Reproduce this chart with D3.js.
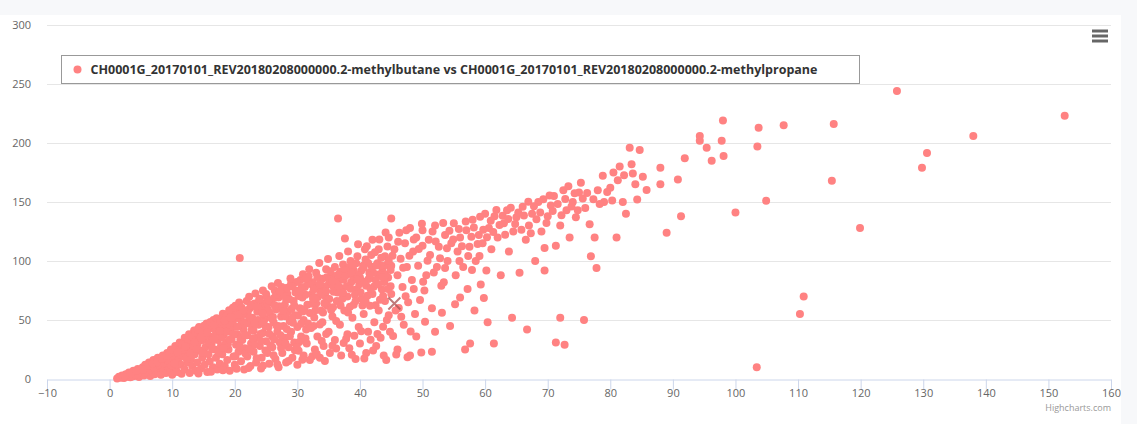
<!DOCTYPE html>
<html>
<head>
<meta charset="utf-8">
<script src="https://cdn.jsdelivr.net/npm/d3@7"></script>
<style>
  body { margin: 0; background: #f7f8fa; }
  #chart { position: absolute; left: 0; top: 15px; width: 1121px; height: 409px; background: #fff; }
  text { font-family: "Open Sans", "DejaVu Sans", sans-serif; }
</style>
</head>
<body>
<div id="chart"></div>
<script>
const seriesName = 'CH0001G_20170101_REV20180208000000.2-methylbutane vs CH0001G_20170101_REV20180208000000.2-methylpropane'
const xTicks = d3.range(-10, 161, 10)
const yTicks = [0, 50, 100, 150, 200, 250, 300]

// [x, y]
const points = [
  [1.2,0.5],[1.5,2],[1.8,1],[2,3],[2.3,0.8],[2.6,4],[2.8,2],[3.1,5.5],[3.3,1.5],[3.5,3.5],[3.8,7],[4,2.5],[4.2,5],[4.5,8.5],[4.7,1.8],[4.9,4],[5.1,6.5],[5.3,10],[5.5,3],[5.7,12],[5.9,8],[6.1,5],[6.3,14],[6.5,2.5],[6.6,10.5],[6.8,7],[7,16],[7.2,4],[7.3,12.5],[7.5,9],[7.7,18],[7.8,6],[8,14.5],[8.2,3.5],[8.3,11],[8.5,20],[8.6,8],[8.8,16.5],[9,5],[9,13],[9.2,22],[9.4,10],[9.5,18.5],[9.7,7],[9.8,25],[10,15],[10,3.5],
  [10.3,20],[10.5,28],[10.6,10],[10.8,6],[11,24],[11,16],[11.2,31],[11.4,12],[11.5,4.5],[11.7,27],[11.8,19],[12,35],[12,8],[12.2,22],[12.4,14],[12.5,30],[12.7,38],[12.8,5],[13,26],[13,17],[13.2,11],[13.4,33],[13.5,41],[13.6,21],[13.8,7],[14,29],[14,14],[14.2,37],[14.3,44],[14.5,24],[14.6,9],[14.8,18],[15,33],[15,40],[15.2,12],[15.3,27],[15.5,47],[15.6,6],[15.8,21],[16,36],[16,15],[16.2,43],[16.3,30],[16.5,10],[16.6,50],[16.8,25],[17,39],[17,18],[17.2,8],[17.3,33],[17.5,46],[17.6,13],[17.8,28],[18,52],[18,21],[18.2,37],[18.4,11],[18.5,43],[18.6,31],[18.8,16],[19,49],[19,25],[19.2,7],[19.3,40],[19.5,34],[19.6,55],[19.8,19],[20,45],[20,12],[20.2,29],[20.4,38],[20.5,58],[20.6,23],
  [20.8,102.5],[21,50],[21,15],[21.2,33],[21.4,42],[21.5,8],[21.6,26],[21.8,55],[22,19],[22,37],[22.2,47],[22.4,60],[22.5,11],[22.6,30],[22.8,52],[23,23],[23,41],[23.2,64],[23.4,14],[23.5,35],[23.6,57],[23.8,46],[24,28],[24,68],[24.2,9],[24.3,18],[24.5,39],[24.6,61],[24.8,51],[25,32],[25,72],[25.2,22],[25.4,44],[25.5,13],[25.6,56],[25.8,65],[26,36],[26,27],[26.2,48],[26.4,75],[26.5,17],[26.6,59],[26.8,40],[27,69],[27,10],[27.2,31],[27.4,53],[27.5,78],[27.6,22],[27.8,45],[28,63],[28,35],[28.2,14],[28.4,72],[28.5,57],[28.6,27],[28.8,49],[29,81],[29,40],[29.2,18],[29.4,66],[29.5,31],[29.6,54],[29.8,75],[30,44],[30,12],[30.2,24],[30.4,60],[30.5,84],[30.6,36],[30.8,69],[31,50],[31,20],[31.2,78],[31.4,42],[31.5,30],[31.6,63],[31.8,87],[32,56],[32,16],
  [32.3,72],[32.5,82],[32.6,45],[32.8,25],[33,90],[33,64],[33.2,36],[33.4,76],[33.6,18],[33.8,58],[34,85],[34,48],[34.2,28],[34.5,70],[34.6,93],[34.8,62],[35,40],[35,80],[35.2,22],[35.5,88],[35.6,53],[35.8,74],[36,33],[36,95],[36.3,66],[36.5,136],[36.6,84],[36.8,46],[37,20],[37,77],[37.3,97],[37.5,58],[37.6,119],[37.8,88],[38,38],[38,70],[38.3,26],[38.5,100],[38.6,82],[38.8,52],[39,92],[39,63],[39.3,17],[39.5,76],[39.6,104],[39.8,44],[40,86],[40,30],[40.3,68],[40.5,96],[40.6,55],[40.8,110],[41,79],[41,22],[41.3,40],[41.5,90],[41.6,62],[41.8,105],[42,118],[42,72],[42.3,48],[42.5,84],[42.6,28],[42.8,98],[43,58],[43,110],[43.3,35],[43.5,76],[43.6,92],[43.8,20],[44,66],[44,104],[44.3,50],[44.5,86],[44.6,120],[44.8,40],[45,136],[45,96],[45,72],
  [45.5,110],[45.7,58],[46,88],[46,25],[46.3,124],[46.5,102],[46.8,78],[47,46],[47.2,115],[47.5,95],[47.7,65],[48,128],[48,20],[48.3,84],[48.5,108],[48.8,55],[49,120],[49,36],[49.3,96],[49.6,67],[50,113],[50,126],[50.3,75],[50.6,88],[51,118],[51.2,105],[51.5,23],[51.5,60],[52,40],[52,130],[52.3,95],[52.6,112],[53,79],[53.4,82],[53.6,122],[54,100],[54.4,45],[54.6,115],[55,132],[55.3,88],[55.6,108],[56,69],[56,120],[56.5,95],[56.8,25],[57,126],[57.6,30],[57.5,112],[58,135],[58.5,100],[59,122],[59.3,80],[59.6,115],[60,140],[60.4,48],[60.2,92],
  [60.6,128],[61,110],[61.4,30],[61.5,138],[62,120],[62.5,88],[63,132],[63.5,143],[63.8,108],[64.3,52],[64.5,125],[65,137],[65.5,90],[66,146],[66.7,42],[66.5,118],[67,130],[67.5,140],[68,100],[68.5,150],[69,125],[69.5,92],[69.5,111],[70,138],[70.5,147],[71,155],[71.3,31],[71.3,113],[72,52],[72,130],[72.7,29],[72.5,160],[73,143],[73.5,120],[74,150],[74.5,137],[75,158],[75.6,153],[75.8,50],[76,145],[76.9,104],[77.5,120],[77.8,94],[78,160],[79,150],[80,162],[80.5,175],[81.5,180],[81,120],[82,150],[83.1,196],[83.4,182],[84.7,194],[84,165],[82.5,140],
  [88,179],[88,165],[89,124],[90.8,169],[91.3,138],[91.9,187],[94.3,206],[94.3,202],[95.4,196],[96.2,185],[97.8,202],[98,219],[98.1,189],[100,141],[103.4,10],[103.5,197],[103.7,213],[104.9,151],[107.7,215],
  [110.3,55],[110.9,70],[115.4,168],[115.7,216],[119.9,128],[125.8,244],[129.8,179],[130.6,191.5],[138,206],[152.6,223],
  [2.1,1.6],[3.6,2.2],[4.4,3.3],[5.6,5.4],[6.4,7.8],[7.1,9.6],[7.9,12],[8.7,13.4],[9.3,15.8],[9.9,11.7],[10.4,13.2],[11.1,20.4],[11.9,25.3],[12.3,17.4],[12.9,21.8],[13.3,28.6],[13.9,25.5],[14.4,32.4],[14.9,22.1],[15.4,36.7],[15.9,30.2],[16.4,25.7],[16.9,42.1],[17.4,22.6],[17.9,35.2],[18.3,46.4],[18.9,29.4],[19.4,44.3],[19.9,38.1],[20.3,51.7],[20.9,33.6],[21.3,46.2],[21.7,21.6],[22.1,57.3],[22.7,41.8],[23.1,29.4],[23.7,50.1],[24.1,38.2],[24.4,64.3],[24.9,44.7],[25.3,58.9],[25.7,28.4],[26.1,52.6],[26.3,68.7],[26.7,45.2],[27.1,61.6],[27.3,37.1],[27.7,71.2],[28.1,53.2],[28.3,42.3],[28.7,67.9],[29.1,59.6],[29.3,47.7],[29.7,73.3],[30.1,53.8],[30.3,31.4],[30.7,77.8],[31.1,59.1],[31.3,71.4],[31.7,47.1],[32.1,80.6],[32.4,63.7],[32.7,52.1],[33.1,77.2],[33.3,69.4],[33.7,84.1],[34.1,56.3],[34.3,78.4],[34.7,86.2],[35.1,67.8],[35.3,91.4],[35.7,60.7],[36.1,81.3],[36.4,73.4],[36.9,91.2],[37.2,68.1],[37.4,84.2],[37.9,78.6],[38.2,94.6],[38.4,61.2],[38.9,86.7],[39.2,71.3],[39.4,98.1],[39.9,80.4],[40.2,91.7],[40.4,62.3],[40.9,101.2],[41.2,70.6],[41.4,84.8],[41.9,95.1],[42.2,78.2],[42.4,107.4],[42.9,88.6],[43.2,67.2],[43.4,102.8],[43.9,82.1],[44.2,96.7],[44.4,112.3],[44.9,78.6],
  [2.4,2.7],[3.4,4.6],[4.3,6.8],[5.4,8.1],[6.2,11.4],[6.9,13.1],[7.6,14.3],[8.4,17.2],[9.1,19.4],[9.6,21.9],[10.2,24.8],[10.9,22.7],[11.6,29.4],[12.6,33.1],[13.1,36.3],[13.7,39.5],[14.1,42.2],[14.7,40.3],[15.1,45.2],[15.7,43.6],[16.1,48.3],[16.7,46.2],[17.1,51.4],[17.7,49.2],[18.1,55.3],[18.7,53.6],[19.1,58.2],[19.7,60.4],[20.1,62.1],[20.7,64.8],[21.1,60.3],[21.9,66.2],[22.3,69.7],[22.9,63.1],[23.3,72.4],[23.9,67.2],[24.5,75.1],[25.1,69.6],[25.9,78.6],[26.9,81.4],[27.9,76.3],[28.9,85.2],[29.9,82.3],[30.9,88.7],[31.9,93.1],[33.5,98.2],[34.9,101.6],[36.7,104.3],[38.1,108.1],[39.7,114.2],[41.1,112.6],[43.1,118.3],[44.1,124.2],
  [26.2,20.1],[29.6,24.3],[32.4,19.2],[34.4,15.3],[36.2,25.8],[38.7,20.6],[40.7,17.4],[42.1,24.1],[44.2,16.2],[45.8,20.8],[47.6,18.4],[49.8,22.4],[33.9,32.2],[37.4,30.6],[39.1,36.6],[41.7,33.3],[43.7,44.2],[45.3,36.4],[46.6,52.8],[48.1,40.3],[50.4,48.6],[53.1,56.2],[55.2,63.4],[57.2,76.2],[58.3,58.1],[59.8,68.6],
  [45.2,104.4],[46.1,116.3],[46.9,94.2],[47.4,126.1],[47.9,104.5],[48.6,118.3],[49.4,110.2],[49.9,131.6],[50.8,100.2],[51.6,125.1],[52.1,116.6],[52.8,102.4],[53.3,132.1],[53.9,110.7],[54.3,125.6],[54.9,118.2],[55.8,127.2],[56.3,112.4],[56.9,133.4],[57.3,104.2],[57.8,120.6],[58.2,128.3],[58.8,114.4],[59.2,137.6],[59.7,126.4],[60.3,120.1],[60.9,134.2],[61.3,124.6],[61.8,143.2],[62.3,130.6],[62.8,138.4],[63.2,122.3],[63.7,135.6],[64.1,145.1],[64.8,131.3],[65.3,141.2],[65.8,126.4],[66.2,138.6],[66.9,150.2],[67.3,123.6],[67.8,146.3],[68.2,135.4],[68.8,141.1],[69.3,152.4],[69.8,132.1],[70.3,155.6],[70.8,142.3],[71.6,148.4],[72.2,138.7],[72.8,152.6],[73.3,163.4],[73.8,146.2],[74.3,157.4],[74.8,143.1],[75.3,166.4],[76.3,157.6],[76.7,131.2],[77.3,152.4],[78.3,148.3],[78.8,172.2],[79.5,158.4],[80.3,151.2],[81.2,168.4],[82.2,172.6],[83.6,174.2],[84.3,152.1],[85.2,171.3],[85.8,160.2],
  [18.2,26.3],[18.6,40.1],[19.2,33.4],[19.6,47.6],[20.1,19.3],[20.4,44.2],[20.8,27.4],[21.2,54.6],[21.6,37.2],[21.9,48.3],[22.3,25.2],[22.6,62.4],[22.9,34.6],[23.2,47.1],[23.5,17.6],[23.8,59.4],[24.2,32.1],[24.6,48.2],[24.9,24.1],[25.2,63.8],[25.5,38.3],[25.9,51.2],[26.3,33.4],[26.6,71.1],[27.1,44.6],[27.4,26.3],[27.7,57.6],[28.1,30.2],[28.4,77.4],[28.8,36.3],[29.2,51.7],[29.5,62.2],[29.9,27.2],[30.2,70.4],[30.6,46.8],[30.9,57.3],[31.3,34.3],[31.7,81.2],[32.2,43.2],[32.5,68.2],[32.9,58.3],[33.2,86.4],[33.6,46.1],[33.9,72.3],[34.3,64.1],[34.6,38.2],[35.1,84.1],[35.4,58.4],[35.8,78.2],[36.2,49.1],[36.5,88.4],[36.9,62.3],[37.3,73.1],[37.7,92.4],[38.1,56.3],[38.5,76.4],[38.9,96.2],[39.3,66.1],[39.7,88.2],[40.1,73.5],[40.5,82.6],[40.9,65.7],[41.3,98.4],[41.7,76.3],[42.1,90.2],[42.5,62.4],[42.9,80.4],[43.3,96.1],[43.7,70.3],[44.1,88.3],[44.5,76.3],[44.9,92.3],
  [12.1,27.6],[13.6,31.2],[14.6,35.1],[15.6,39.1],[16.6,33.4],[17.6,40.6],[18.4,49.6],[19.4,52.1],[20.6,54.4],[21.4,58.2],[22.4,52.2],[23.4,61.3],[24.4,55.6],[25.4,66.8],[26.4,62.3],[27.2,74.1],[28.2,67.3],[29.2,78.3],[30.4,74.1],[31.4,85.3],[32.6,76.1],[33.6,80.2],[34.6,74.3],[35.6,83.1],[36.6,78.6],[37.6,87.2],[38.6,90.1],[39.6,84.1],[40.6,94.3],[41.6,88.1],[42.6,96.2],[43.6,86.2],[44.6,100.1],
  [14.2,4.6],[16.2,6.1],[18.1,7.4],[20.3,8.6],[22.2,9.3],[24.5,11.2],[26.8,12.4],[28.6,15.2],[30.8,16.4],[33.1,21.2],[35.6,28.2],[37.8,34.2],[40.2,40.4],[42.8,38.1],[44.6,54.1],[46.2,60.2],[47.3,70.1],[48.6,76.3],[50.1,82.4],[51.8,90.2],[53.6,94.1],[55.9,100.1],[57.9,92.4],[59.1,104.3]
]
const hoverPoint = [45.5, 64]

const W = 1121, H = 409
const margin = {left: 47, right: 10, top: 10, bottom: 45}
const svg = d3.select('#chart').append('svg').attr('width', W).attr('height', H)

const x = d3.scaleLinear().domain([-10, 160]).range([margin.left, W - margin.right])
const y = d3.scaleLinear().domain([0, 300]).range([H - margin.bottom, margin.top])

svg.append('g').selectAll('line').data(yTicks.filter(d => d > 0)).join('line')
  .attr('x1', x(-10)).attr('x2', x(160))
  .attr('y1', d => y(d) + 0.5).attr('y2', d => y(d) + 0.5)
  .attr('stroke', '#e6e6e6')

svg.append('g').selectAll('text').data(yTicks).join('text')
  .attr('x', 31).attr('y', d => y(d) + 4)
  .attr('text-anchor', 'end').attr('font-size', 11).attr('fill', '#666')
  .text(d => d)

const xAxis = svg.append('g').attr('transform', `translate(0,${y(0) + 0.5})`)
  .call(d3.axisBottom(x).tickValues(xTicks).tickSize(10).tickPadding(0))
xAxis.selectAll('path, line').attr('stroke', '#ccd6eb')
xAxis.selectAll('text').attr('font-size', 11).attr('fill', '#666')
  .attr('font-family', '"Open Sans", "DejaVu Sans", sans-serif')

svg.append('g').selectAll('circle').data(points).join('circle')
  .attr('cx', d => x(d[0])).attr('cy', d => y(d[1])).attr('r', 4)
  .attr('fill', '#ff8282')

const hx = x(hoverPoint[0]), hy = y(hoverPoint[1])
svg.append('path')
  .attr('d', `M${hx - 6},${hy - 6}L${hx + 6},${hy + 6}M${hx + 6},${hy - 6}L${hx - 6},${hy + 6}`)
  .attr('stroke', '#b05a5a').attr('stroke-width', 2).attr('opacity', 0.8)

const lg = svg.append('g').attr('transform', 'translate(61.5,40.5)')
lg.append('rect').attr('width', 798).attr('height', 28)
  .attr('fill', '#fff').attr('stroke', '#999')
lg.append('circle').attr('cx', 16).attr('cy', 14).attr('r', 4).attr('fill', '#ff8282')
lg.append('text').attr('x', 29).attr('y', 18.5)
  .attr('font-size', 12.5).attr('font-weight', 'bold').attr('fill', '#333')
  .text(seriesName)

svg.append('g').selectAll('line').data([0, 5, 10]).join('line')
  .attr('x1', 1092).attr('x2', 1108)
  .attr('y1', d => 16 + d).attr('y2', d => 16 + d)
  .attr('stroke', '#666').attr('stroke-width', 3)

svg.append('text').attr('x', W - 10).attr('y', H - 13)
  .attr('text-anchor', 'end').attr('font-size', 9).attr('fill', '#999')
  .text('Highcharts.com')
</script>
</body>
</html>
